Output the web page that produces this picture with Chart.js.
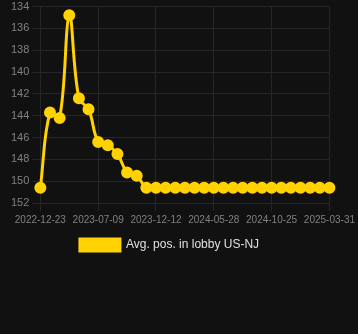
<!DOCTYPE html>
<html>
<head>
<meta charset="utf-8">
<script src="https://cdn.jsdelivr.net/npm/chart.js@4"></script>
<style>
  html, body { margin: 0; padding: 0; background: #111111; }
  #wrap { width: 358px; height: 264px; position: relative; top: -3px; }
</style>
</head>
<body>
<div id="wrap"><canvas id="posChart"></canvas></div>
<script>
// dates of each sample (only every 6th one is shown on the axis)
const dates = [
  "2022-12-23", "2023-01-25", "2023-02-27", "2023-04-01", "2023-05-04", "2023-06-06",
  "2023-07-09", "2023-08-04", "2023-08-30", "2023-09-25", "2023-10-21", "2023-11-16",
  "2023-12-12", "2024-01-07", "2024-02-02", "2024-02-28", "2024-03-25", "2024-04-20",
  "2024-05-28", "2024-06-22", "2024-07-17", "2024-08-11", "2024-09-05", "2024-09-30",
  "2024-10-25", "2024-11-19", "2024-12-14", "2025-01-08", "2025-02-02", "2025-03-01",
  "2025-03-31"
];
const avgPos = [
  150.6, 143.7, 144.2, 134.8, 142.4, 143.4,
  146.4, 146.7, 147.5, 149.2, 149.5, 150.6,
  150.6, 150.6, 150.6, 150.6, 150.6, 150.6,
  150.6, 150.6, 150.6, 150.6, 150.6, 150.6,
  150.6, 150.6, 150.6, 150.6, 150.6, 150.6,
  150.6
];
const seriesName = "Avg. pos. in lobby US-NJ";
const yMin = 134;
const yMax = 152;

document.addEventListener("DOMContentLoaded", function () {
  Chart.defaults.font.family = "'Liberation Sans', Arial, sans-serif";
  Chart.defaults.font.size = 12;

  const ctx = document.getElementById("posChart").getContext("2d");
  new Chart(ctx, {
    type: "line",
    data: {
      labels: dates,
      datasets: [
        {
          label: seriesName,
          data: avgPos,
          borderColor: "#FFD200",
          backgroundColor: "#FFD200",
          borderWidth: 3,
          pointRadius: 4.5,
          pointHoverRadius: 5,
          tension: 0.4,
          fill: false,
        },
      ],
    },
    options: {
      responsive: true,
      maintainAspectRatio: false,
      animation: false,
      layout: { padding: { left: 8, right: 27, top: 0 } },
      scales: {
        x: {
          grid: { color: "#262626" },
          border: { color: "#262626" },
          ticks: {
            color: "#808080",
            font: { size: 10 },
            maxRotation: 0,
            autoSkip: false,
            callback: function (val, i) {
              return i % 6 === 0 ? dates[i] : null;
            },
          },
        },
        y: {
          reverse: true,
          min: yMin,
          max: yMax,
          grid: { color: "#262626" },
          border: { color: "#262626" },
          ticks: { color: "#808080", stepSize: 2, font: { size: 11 } },
        },
      },
      plugins: {
        legend: {
          position: "bottom",
          labels: { color: "#e0e0e0", boxWidth: 40, boxHeight: 12 },
        },
        tooltip: { enabled: true },
      },
    },
  });
});
</script>
</body>
</html>
